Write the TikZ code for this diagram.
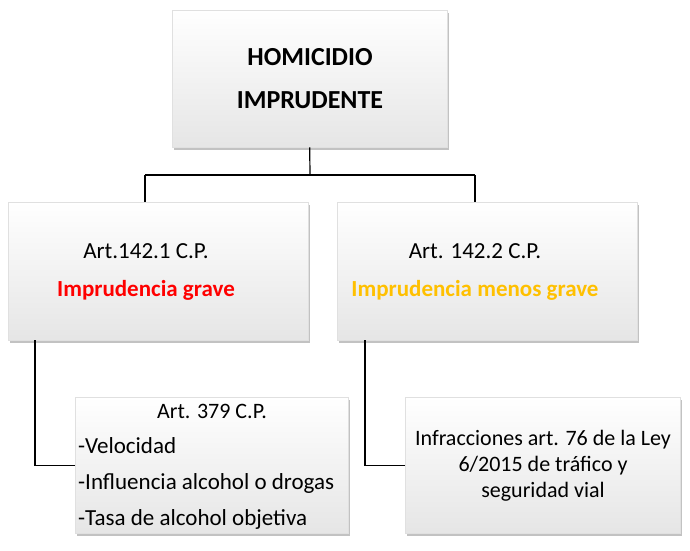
\documentclass[tikz,border=0pt]{standalone}
\usepackage{fontspec}
\setmainfont{Carlito}
\usetikzlibrary{shadows}
\definecolor{myred}{HTML}{FF0000}
\definecolor{myorange}{HTML}{FFC000}
\tikzset{
  box/.style={draw=black!12, top color=white, bottom color=black!10, drop shadow={shadow xshift=2pt,shadow yshift=-3pt,fill=black!40,opacity=0.6}, inner sep=0pt, align=center},
  conn/.style={draw=black, line width=1.2pt}
}
\begin{document}
\begin{tikzpicture}[x=1pt,y=-1pt]
\useasboundingbox (0,0) rectangle (690,550);
\node[box, minimum width=275pt, minimum height=137pt, anchor=north west] (top) at (172,10) {};
\node[align=center, font=\fontsize{26}{43}\selectfont\bfseries] (tt) at (310,79) {HOMICIDIO\\IMPRUDENTE};
\node[box, minimum width=300pt, minimum height=138pt, anchor=north west] (l) at (8,202) {};
\node[align=center, font=\fontsize{23}{38}\selectfont] (lt) at (146,272) {Art.142.1 C.P.\\\textcolor{myred}{\bfseries Imprudencia grave}};
\node[box, minimum width=300pt, minimum height=138pt, anchor=north west] (r) at (337,202) {};
\node[align=center, font=\fontsize{23}{38}\selectfont] (rt) at (475,272) {Art. 142.2 C.P.\\\textcolor{myorange}{\bfseries Imprudencia menos grave}};
\node[box, minimum width=273pt, minimum height=136pt, anchor=north west] (bl) at (75,397) {};
\node[font=\fontsize{22}{24}\selectfont, inner sep=0pt] (blt) at (212,411) {Art. 379 C.P.};
\node[anchor=west, align=left, font=\fontsize{23}{36}\selectfont, inner sep=0pt] (bll) at (78,483) {-Velocidad\\-Influencia alcohol o drogas\\-Tasa de alcohol objetiva};
\node[box, minimum width=275pt, minimum height=136pt, anchor=north west] (br) at (405,397) {};
\node[align=center, font=\fontsize{22}{26}\selectfont] (brt) at (543,466) {Infracciones art. 76 de la Ley\\6/2015 de tráfico y\\seguridad vial};
\coordinate (tj) at (310,175);
\draw[conn] (top.south) -- (tj);
\draw[conn] (145,175) -- (475,175);
\draw[conn] (145,175) -- (145,202);
\draw[conn] (475,175) -- (475,202);
\draw[conn] (35,340) |- (bl.west);
\draw[conn] (365,340) |- (br.west);
\end{tikzpicture}
\end{document}
